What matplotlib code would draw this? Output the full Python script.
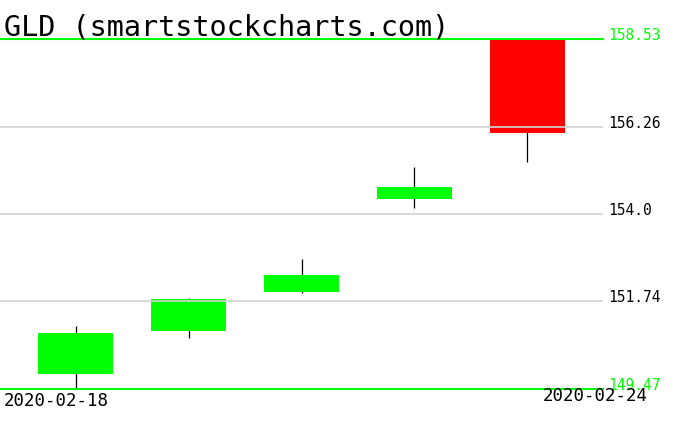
import matplotlib
matplotlib.use("Agg")
import matplotlib.pyplot as plt
from matplotlib.patches import Rectangle

# GLD daily candles
dates = ["2020-02-18", "2020-02-19", "2020-02-20", "2020-02-21", "2020-02-24"]
opens = [149.87, 150.98, 151.99, 154.40, 158.53]
closes = [150.92, 151.80, 152.42, 154.70, 156.10]
highs = [151.10, 151.82, 152.84, 155.22, 158.53]
lows = [149.47, 150.80, 151.95, 154.16, 155.35]

y_min, y_max = 149.47, 158.53
grid_levels = [151.74, 154.0, 156.26]
grid_labels = ["151.74", "154.0", "156.26"]

W, H = 676, 431
fig = plt.figure(figsize=(W / 100, H / 100), dpi=100)
fig.patch.set_facecolor("white")
mono = "DejaVu Sans Mono"

# plot area in pixels: x 0..603, y 40..390 (from top)
ax = fig.add_axes([0, (H - 390) / H, 603 / W, 350 / H])
ax.set_xlim(-0.67, 4.67)
ax.set_ylim(y_min, y_max)
ax.axis("off")

width = 0.67
for i in range(len(dates)):
    o, c, h, l = opens[i], closes[i], highs[i], lows[i]
    col = "#00ff00" if c >= o else "#ff0000"
    ax.plot([i, i], [l, h], color="black", lw=0.9, zorder=1, solid_capstyle="butt")
    ax.add_patch(Rectangle((i - width / 2, min(o, c)), width, abs(c - o),
                           facecolor=col, edgecolor="none", zorder=2))

for lv in grid_levels:
    ax.axhline(lv, color="#d3d3d3", lw=1.2, zorder=3)
ax.axhline(y_max, color="#00ff00", lw=1.5, zorder=3, clip_on=False)
ax.axhline(y_min, color="#00ff00", lw=1.5, zorder=3, clip_on=False)

lab_tr = ax.get_yaxis_transform()
fs = 10.5
for lv, s in zip(grid_levels, grid_labels):
    ax.text(1.0085, lv, s, transform=lab_tr, fontsize=fs, color="black",
            family=mono, va="baseline", ha="left", clip_on=False)
ax.text(1.0085, y_max, "158.53", transform=lab_tr, fontsize=fs, color="#00ff00",
        family=mono, va="baseline", ha="left", clip_on=False)
ax.text(1.0085, y_min, "149.47", transform=lab_tr, fontsize=fs, color="#00ff00",
        family=mono, va="baseline", ha="left", clip_on=False)

fig.text(4 / W, 1 - 28 / H, "GLD (smartstockcharts.com)", fontsize=20.5,
         color="black", family=mono, va="center", ha="left")
fig.text(4 / W, 1 - 401 / H, dates[0], fontsize=12.5, color="black",
         family=mono, va="center", ha="left")
fig.text(648 / W, 1 - 396 / H, dates[-1], fontsize=12.5, color="black",
         family=mono, va="center", ha="right")

fig.savefig("out.png", dpi=100)
